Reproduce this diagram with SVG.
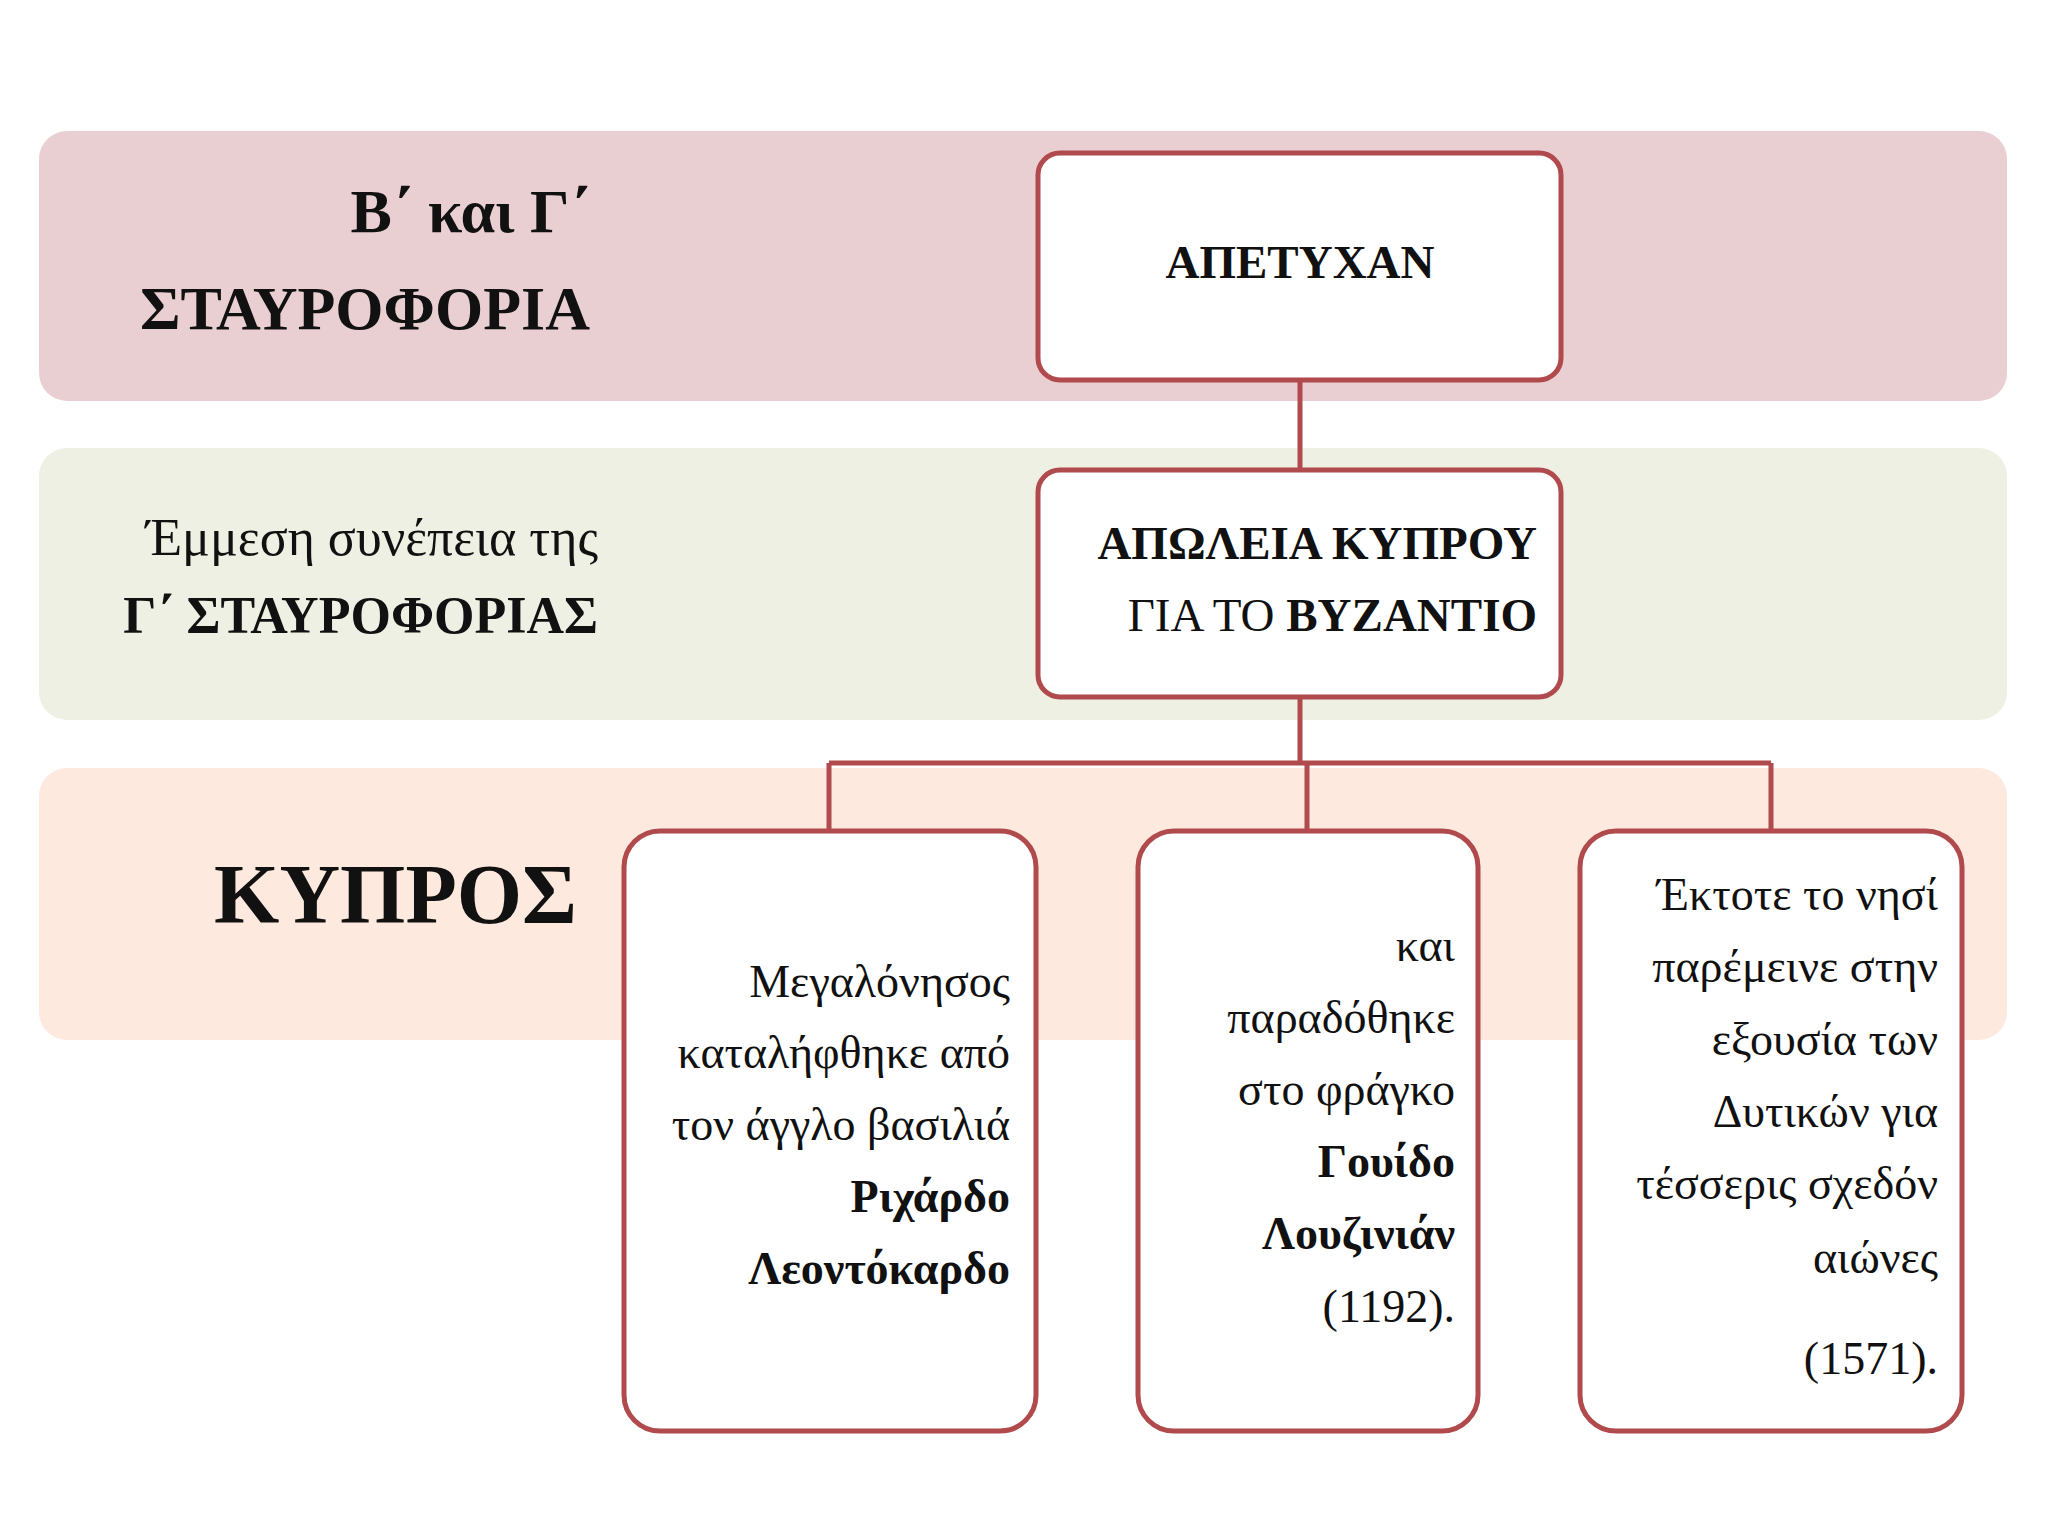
<svg xmlns="http://www.w3.org/2000/svg" width="2048" height="1536" viewBox="0 0 2048 1536">
<style>
.box{fill:#fff;stroke:#b04a4c;stroke-width:5}
.ln{stroke:#b04a4c;stroke-width:5;fill:none}
text{font-family:"Liberation Serif","DejaVu Serif",serif;fill:#111}
.b{font-weight:bold}
.r{text-anchor:end}
.t{font-size:46px}
</style>
<rect width="2048" height="1536" fill="#fff"/>
<g id="bands">
<rect x="39" y="131" width="1968" height="270" rx="28" fill="#e9cfd2"/>
<rect x="39" y="448" width="1968" height="272" rx="28" fill="#eef0e4"/>
<rect x="39" y="768" width="1968" height="272" rx="28" fill="#fde9de"/>
</g>
<g id="labels">
<text class="b r" x="590" y="232" font-size="62">Β΄ και Γ΄</text>
<text class="b r" x="590" y="329" font-size="62">ΣΤΑΥΡΟΦΟΡΙΑ</text>
<text class="r" x="598" y="555" font-size="52">Έμμεση συνέπεια της</text>
<text class="b r" x="598" y="633" font-size="52">Γ΄ ΣΤΑΥΡΟΦΟΡΙΑΣ</text>
<text class="b r" x="577" y="923" font-size="84">ΚΥΠΡΟΣ</text>
</g>
<g id="connectors">
<path class="ln" d="M1300 380V470M1300 697V763M829 763H1771M829 763V831M1307 763V831M1771 763V831"/>
</g>
<g id="n1"><rect class="box" x="1038" y="153" width="523" height="227" rx="22"/>
<text class="b" x="1300" y="278" font-size="47" text-anchor="middle">ΑΠΕΤΥΧΑΝ</text></g>
<g id="n2"><rect class="box" x="1038" y="470" width="523" height="227" rx="22"/>
<text class="b r" x="1537" y="559" font-size="47">ΑΠΩΛΕΙΑ ΚΥΠΡΟΥ</text>
<text class="r" x="1537" y="631" font-size="47">ΓΙΑ ΤΟ <tspan class="b">ΒΥΖΑΝΤΙΟ</tspan></text></g>
<g id="n3"><rect class="box" x="624" y="831" width="412" height="600" rx="36"/>
<text class="t r" x="1010" y="997">Μεγαλόνησος</text>
<text class="t r" x="1010" y="1068">καταλήφθηκε από</text>
<text class="t r" x="1010" y="1140">τον άγγλο βασιλιά</text>
<text class="t r b" x="1010" y="1212">Ριχάρδο</text>
<text class="t r b" x="1010" y="1284">Λεοντόκαρδο</text></g>
<g id="n4"><rect class="box" x="1138" y="831" width="340" height="600" rx="36"/>
<text class="t r" x="1455" y="961">και</text>
<text class="t r" x="1455" y="1033">παραδόθηκε</text>
<text class="t r" x="1455" y="1105">στο φράγκο</text>
<text class="t r b" x="1455" y="1177">Γουίδο</text>
<text class="t r b" x="1455" y="1249">Λουζινιάν</text>
<text class="t r" x="1455" y="1322">(1192).</text></g>
<g id="n5"><rect class="box" x="1580" y="831" width="382" height="600" rx="36"/>
<text class="t r" x="1938" y="910">Έκτοτε το νησί</text>
<text class="t r" x="1938" y="982">παρέμεινε στην</text>
<text class="t r" x="1938" y="1055">εξουσία των</text>
<text class="t r" x="1938" y="1127">Δυτικών για</text>
<text class="t r" x="1938" y="1199">τέσσερις σχεδόν</text>
<text class="t r" x="1938" y="1273">αιώνες</text>
<text class="t r" x="1938" y="1374">(1571).</text></g>
</svg>
